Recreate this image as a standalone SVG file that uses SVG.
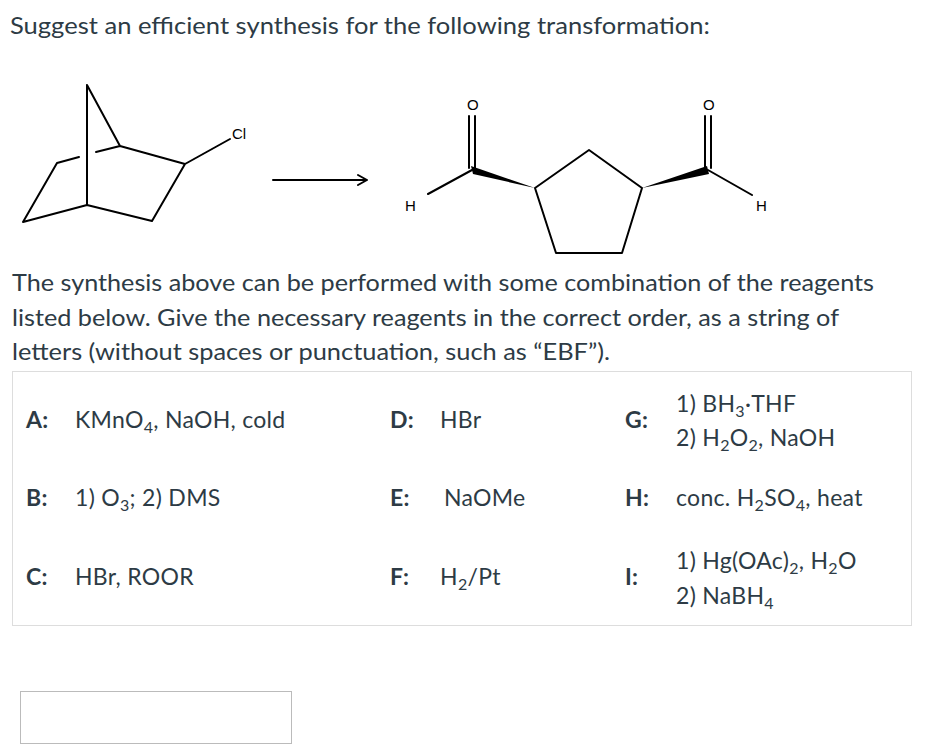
<svg xmlns="http://www.w3.org/2000/svg" width="938" height="754" viewBox="0 0 938 754">
<style>
text{font-family:Lato,"Liberation Sans",sans-serif;fill:#2d3b45}
.t{font-size:24px}.p{font-size:23px}.o{font-size:23px;letter-spacing:0.3px}.b{font-weight:bold}
.m{font-family:"Liberation Sans",Arial,sans-serif;fill:#000;font-size:15px;letter-spacing:0}
.bd{stroke:#000;stroke-width:2;fill:none;stroke-linecap:round;stroke-linejoin:round}
</style>
<rect width="938" height="754" fill="#fff"/>
<text class="t" x="10" y="34" textLength="700" lengthAdjust="spacingAndGlyphs">Suggest an efficient synthesis for the following transformation:</text>
<g id="reactant">
<path class="bd" d="M87,85 L87,205 M87,85 L120,146 L185,164 L152,221 L87,205 L23,222 L57,163 L79,157 M96,152 L120,146 M185,164 L230,139"/>
<text class="m" x="232" y="139">Cl</text>
</g>
<g id="connectors"><path class="bd" d="M273,180 L367,180 M358,175 L367,180 L358,185"/></g>
<g id="product">
<path class="bd" d="M535,188 L589,150 L642,188 L622,253 L556,253 Z M469,116 L469,168 M475,116 L475,168 M472,170 L428,194 M708,170 L752,195 M705,116 L705,168 M711,116 L711,168"/>
<polygon points="535,188 471,166 473,174"/>
<polygon points="642,188 707,166 709,174"/>
<text class="m" x="467" y="110">O</text>
<text class="m" x="703" y="110">O</text>
<text class="m" x="405" y="211">H</text>
<text class="m" x="756" y="211">H</text>
</g>
<text class="p" x="12" y="291" textLength="862" lengthAdjust="spacingAndGlyphs">The synthesis above can be performed with some combination of the reagents</text>
<text class="p" x="12" y="326" textLength="827" lengthAdjust="spacingAndGlyphs">listed below. Give the necessary reagents in the correct order, as a string of</text>
<text class="p" x="12" y="360" textLength="598" lengthAdjust="spacingAndGlyphs">letters (without spaces or punctuation, such as “EBF”).</text>
<rect x="12.5" y="371.5" width="899" height="254" fill="none" stroke="#ddd"/>
<g id="options">
<text class="o b" x="26" y="428">A:</text><text class="o" x="75" y="428">KMnO<tspan font-size="16" dy="5">4</tspan><tspan dy="-5">, NaOH, cold</tspan></text>
<text class="o b" x="390" y="428">D:</text><text class="o" x="440" y="428">HBr</text>
<text class="o b" x="625" y="428">G:</text>
<text class="o" x="676" y="412">1) BH<tspan font-size="16" dy="5">3</tspan><tspan dy="-5">·THF</tspan></text>
<text class="o" x="676" y="446">2) H<tspan font-size="16" dy="5">2</tspan><tspan dy="-5">O</tspan><tspan font-size="16" dy="5">2</tspan><tspan dy="-5">, NaOH</tspan></text>
<text class="o b" x="26" y="506">B:</text><text class="o" x="75" y="506">1) O<tspan font-size="16" dy="5">3</tspan><tspan dy="-5">; 2) DMS</tspan></text>
<text class="o b" x="390" y="506">E:</text><text class="o" x="444" y="506">NaOMe</text>
<text class="o b" x="625" y="506">H:</text><text class="o" x="676" y="506">conc. H<tspan font-size="16" dy="5">2</tspan><tspan dy="-5">SO</tspan><tspan font-size="16" dy="5">4</tspan><tspan dy="-5">, heat</tspan></text>
<text class="o b" x="26" y="585">C:</text><text class="o" x="75" y="585">HBr, ROOR</text>
<text class="o b" x="390" y="585">F:</text><text class="o" x="440" y="585">H<tspan font-size="16" dy="5">2</tspan><tspan dy="-5">/Pt</tspan></text>
<text class="o b" x="625" y="585">I:</text>
<text class="o" x="676" y="569">1) Hg(OAc)<tspan font-size="16" dy="5">2</tspan><tspan dy="-5">, H</tspan><tspan font-size="16" dy="5">2</tspan><tspan dy="-5">O</tspan></text>
<text class="o" x="676" y="604">2) NaBH<tspan font-size="16" dy="5">4</tspan></text>
</g>
<rect x="20.5" y="691.5" width="271" height="52" fill="#fff" stroke="#bbb"/>
</svg>
